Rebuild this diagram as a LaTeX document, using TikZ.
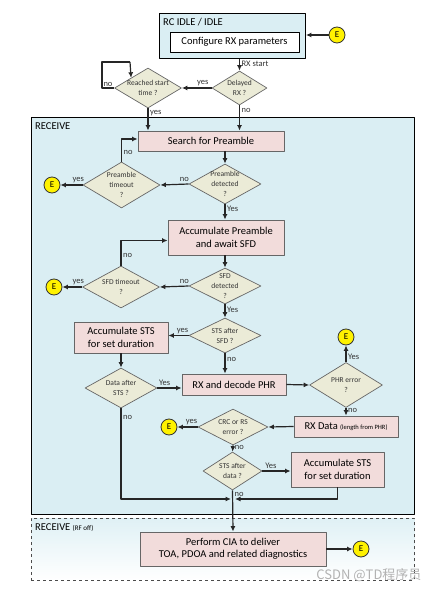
\documentclass[tikz,border=0pt]{standalone}
\usepackage{fontspec}
\setmainfont{Carlito}
\newfontfamily\cjkfont{Noto Sans CJK SC}
\usetikzlibrary{shapes.geometric,arrows.meta,calc}
\definecolor{rxblue}{HTML}{DAEEF3}
\definecolor{procpink}{HTML}{F2DCDB}
\definecolor{decgreen}{HTML}{EBEBD7}
\definecolor{endyellow}{HTML}{FFF200}
\definecolor{lblgray}{HTML}{333333}

\begin{document}
\begin{tikzpicture}[x=1pt,y=-1pt,line join=round,
  arr/.style={line width=1.2pt,draw=black!85,-{Latex[length=5.5pt,width=5pt]}},
  wire/.style={line width=1.2pt,draw=black!85},
  zone/.style={draw=black,line width=0.9pt,fill=rxblue,anchor=north west,inner sep=0pt},
  procbox/.style={draw=black!60,line width=0.8pt,fill=procpink,align=center,inner sep=1pt,
    font=\fontsize{10.5}{12.5}\selectfont},
  decision/.style={diamond,draw=black!60,line width=0.7pt,fill=decgreen,align=center,inner sep=-20pt,
    font=\fontsize{7.5}{10}\selectfont,text=lblgray},
  endpt/.style={circle,draw=black!80,line width=0.8pt,fill=endyellow,minimum size=16pt,inner sep=0pt,
    font=\fontsize{9}{10}\selectfont},
  lbl/.style={font=\fontsize{8.5}{10}\selectfont,text=lblgray,inner sep=1.5pt}]
\useasboundingbox (0,0) rectangle (441,593);

% containers
\node[zone,minimum width=146,minimum height=45] (idle) at (159,13) {};
\node[anchor=north west,font=\fontsize{10.5}{12}\selectfont,inner sep=0pt] at (163,18) {RC IDLE / IDLE};
\node[draw=black,line width=0.8pt,fill=white,minimum width=129,minimum height=20,inner sep=0pt,
  font=\fontsize{10.5}{12}\selectfont] (cfg) at (234.5,42) {Configure RX parameters};
\node[zone,minimum width=383,minimum height=397] (recv) at (31,117) {};
\node[anchor=north west,font=\fontsize{10.5}{12}\selectfont,inner sep=0pt] at (35,122) {RECEIVE};
\node[zone,dashed,draw=black!70,shading=axis,top color=rxblue!85,bottom color=white,
  minimum width=383,minimum height=62] (rfoff) at (31,518) {};
\node[anchor=north west,font=\fontsize{10.5}{12}\selectfont,inner sep=0pt] at (35,523)
  {RECEIVE {\fontsize{7}{8}\selectfont (RF off)}};

% decisions
\node[decision,minimum width=55,minimum height=34] (delayed) at (239.5,88) {Delayed\\RX ?};
\node[decision,minimum width=67,minimum height=40] (reached) at (148,88) {Reached start\\time ?};
\node[decision,minimum width=72,minimum height=40] (predet) at (225,184) {Preamble\\detected\\?};
\node[decision,minimum width=77,minimum height=46] (pretime) at (121.5,185) {Preamble\\timeout\\?};
\node[decision,minimum width=72,minimum height=36] (sfddet) at (225,286) {SFD\\detected\\?};
\node[decision,minimum width=77,minimum height=42] (sfdtime) at (121,287) {SFD timeout\\?};
\node[decision,minimum width=72,minimum height=35] (stsa) at (225,335.5) {STS after\\SFD ?};
\node[decision,minimum width=72,minimum height=40] (data) at (121,388) {Data after\\STS ?};
\node[decision,minimum width=73,minimum height=45] (phrerr) at (346,385) {PHR error\\?};
\node[decision,minimum width=70,minimum height=36] (crc) at (233,427) {CRC or RS\\error ?};
\node[decision,minimum width=59,minimum height=38] (stsd) at (232.5,471) {STS after\\data ?};

% processes
\node[procbox,minimum width=146,minimum height=20] (search) at (211,141) {Search for Preamble};
\node[procbox,minimum width=116,minimum height=35] (accpre) at (226,237.5) {Accumulate Preamble\\and await SFD};
\node[procbox,minimum width=94,minimum height=31] (accsts) at (121,337.5) {Accumulate STS\\for set duration};
\node[procbox,minimum width=104,minimum height=21] (phr) at (234,384.5) {RX and decode PHR};
\node[procbox,minimum width=104,minimum height=21] (rxdata) at (346,426.5)
  {RX Data {\fontsize{6.5}{8}\selectfont (length from PHR)}};
\node[procbox,minimum width=93,minimum height=35] (accstsb) at (337.5,469.5) {Accumulate STS\\for set duration};
\node[procbox,minimum width=186,minimum height=34] (cia) at (233,549)
  {Perform CIA to deliver\\TOA, PDOA and related diagnostics};

% end points
\node[endpt] (e1) at (337,35) {E};
\node[endpt] (e2) at (52,185) {E};
\node[endpt] (e3) at (54,287) {E};
\node[endpt] (e4) at (346,337) {E};
\node[endpt] (e5) at (169,427) {E};
\node[endpt] (e6) at (361,549) {E};
\coordinate (merge) at (233,499);
\coordinate (loopa) at (102,62);
\coordinate (loopb) at (130,62);

% connectors
\draw[arr] (e1) -- (idle.east |- e1);
\draw[arr] (delayed.north |- idle.south) -- node[lbl,right,pos=0.45] {RX start} (delayed.north);
\draw[arr] (delayed.west) -- node[lbl,above,pos=0.3] {yes} (reached.east);
\draw[wire] (reached.west) -| (loopa) -- (loopb);
\draw[arr] (loopb) -- ($(reached.north)!0.5!(reached.west)$);
\node[lbl,above left] at (reached.west) {no};
\draw[arr] (reached.south) -- node[lbl,right,pos=0.2] {yes} (reached.south |- search.north);
\draw[arr] (delayed.south) -- node[lbl,right,pos=0.2] {no} (delayed.south |- search.north);

\draw[arr] (predet.north |- search.south) -- (predet.north);
\draw[arr] (predet.west) -- node[lbl,above,pos=0.15] {no} (pretime.east);
\draw[arr] (pretime.north) |- node[lbl,right,pos=0.2] {no} ([yshift=2pt]search.west);
\draw[arr] (pretime.west) -- node[lbl,above,pos=0.2] {yes} (e2);
\draw[arr] (predet.south) -- node[lbl,right,pos=0.3] {Yes} (accpre.north -| predet.south);

\draw[arr] (sfddet.north |- accpre.south) -- (sfddet.north);
\draw[arr] (sfddet.west) -- node[lbl,above,pos=0.15] {no} (sfdtime.east);
\draw[arr] (sfdtime.north) |- node[lbl,right,pos=0.2] {no} ([yshift=-3pt]accpre.west);
\draw[arr] (sfdtime.west) -- node[lbl,above,pos=0.2] {yes} (e3);
\draw[arr] (sfddet.south) -- node[lbl,right,pos=0.4] {Yes} (stsa.north);

\draw[arr] (stsa.west) -- node[lbl,above,pos=0.3] {yes} (stsa.west -| accsts.east);
\draw[arr] (stsa.south) -- node[lbl,right,pos=0.3] {no} (stsa.south |- phr.north);
\draw[arr] (accsts.south) -- (data.north);
\draw[arr] (data.east) -- node[lbl,above,pos=0.3] {Yes} (data.east -| phr.west);
\draw[arr] (phr.east) -- (phrerr.west);
\draw[arr] (phrerr.north) -- node[lbl,right,pos=0.3] {Yes} (e4);
\draw[arr] (phrerr.south) -- node[lbl,right,pos=0.4] {no} (rxdata.north);
\draw[arr] (rxdata.west) -- (crc.east);
\draw[arr] (crc.west) -- node[lbl,above,pos=0.3] {yes} (e5);
\draw[arr] (crc.south) -- node[lbl,right,pos=0.3] {no} (stsd.north);
\draw[arr] (stsd.east) -- node[lbl,above,pos=0.3] {Yes} (stsd.east -| accstsb.west);
\draw[arr] (data.south) |- node[lbl,right,pos=0.05] {no} ([xshift=-2pt]merge);
\draw[arr] (accstsb.south) |- ([xshift=2pt]merge);
\draw[arr] (stsd.south) -- node[lbl,right,pos=0.1] {no} (cia.north);
\draw[arr] (cia.east) -- (e6);

\node[font=\cjkfont\fontsize{13}{14}\selectfont,text=black!30,anchor=east] (mark) at (425,575) {CSDN @TD程序员};
\end{tikzpicture}
\end{document}
